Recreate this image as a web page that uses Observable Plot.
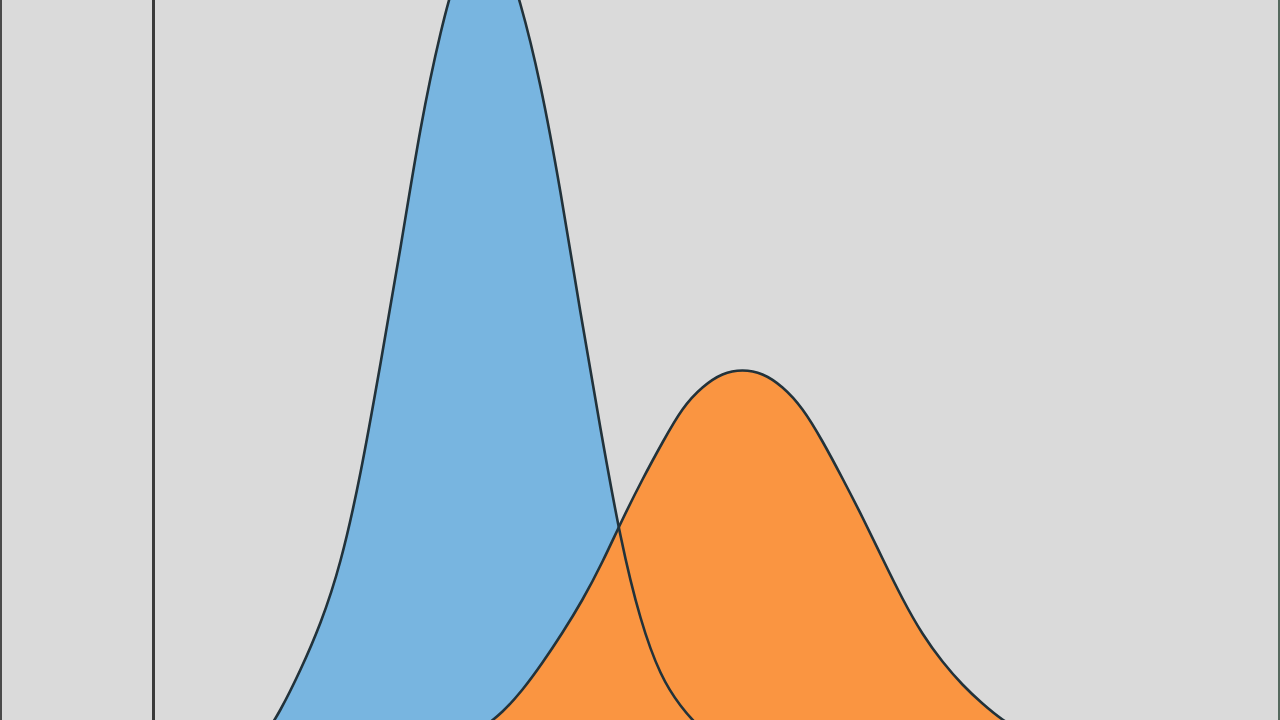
<!DOCTYPE html>
<html>
<head>
<meta charset="utf-8">
<script src="https://cdn.jsdelivr.net/npm/d3@7"></script>
<script src="https://cdn.jsdelivr.net/npm/@observablehq/plot@0.6"></script>
<style>
  html, body { margin: 0; padding: 0; background: #dadada; overflow: hidden; }
  #wrap { width: 1276px; height: 720px; border-left: 2px solid #4a4a4a; border-right: 2px solid #55695e; background: #dadada; }
  #wrap svg { display: block; }
</style>
</head>
<body>
<div id="wrap"></div>
<script>
// Blue distribution (x position, density)
const blueX = [4.7, 6.7, 8.7, 10.7, 12.7, 14.7, 16.7, 18.7, 20.7, 22.7, 24.7, 26.7, 28.7, 30.7, 32.7, 34.7, 36.7, 38.7, 40.7, 42.7, 44.7, 46.7, 48.7, 50.7, 52.7, 54.7, 56.7, 58.7, 61.7];
const blueY = [0.000, 0.002, 0.007, 0.017, 0.046, 0.086, 0.133, 0.195, 0.283, 0.392, 0.508, 0.626, 0.722, 0.790, 0.815, 0.805, 0.751, 0.669, 0.563, 0.443, 0.327, 0.220, 0.138, 0.083, 0.050, 0.028, 0.014, 0.006, 0.001];

// Orange distribution (x position, density)
const orangeX = [22.9, 27.9, 30.9, 32.9, 34.9, 36.9, 38.9, 40.9, 42.9, 44.9, 46.9, 48.9, 50.9, 52.9, 54.9, 56.9, 58.9, 60.9, 62.9, 64.9, 66.9, 68.9, 70.9, 72.9, 74.9, 76.9, 78.9, 80.9, 82.9, 84.9, 86.9, 89.9, 94.9];
const orangeY = [0.001, 0.007, 0.017, 0.028, 0.044, 0.066, 0.093, 0.123, 0.156, 0.194, 0.236, 0.276, 0.313, 0.346, 0.368, 0.381, 0.385, 0.381, 0.368, 0.346, 0.314, 0.277, 0.238, 0.197, 0.157, 0.122, 0.094, 0.071, 0.052, 0.036, 0.024, 0.011, 0.003];

const blue = blueX.map((x, i) => ({x, y: blueY[i]}));
const orange = orangeX.map((x, i) => ({x, y: orangeY[i]}));

const outline = "#22323a";
const curve = "natural";
const chart = Plot.plot({
  width: 1276,
  height: 720,
  marginLeft: 151,
  marginRight: 0,
  marginTop: 0,
  marginBottom: 0,
  style: { background: "#dadada" },
  x: { domain: [0, 112.5], axis: null },
  y: { domain: [0.035, 0.755], axis: null },
  marks: [
    Plot.areaY(blue, { x: "x", y: "y", fill: "#78b5e0", curve, clip: true }),
    Plot.areaY(orange, { x: "x", y: "y", fill: "#fa9541", curve, clip: true }),
    Plot.lineY(blue, { x: "x", y: "y", stroke: outline, strokeWidth: 2.6, curve, clip: true }),
    Plot.lineY(orange, { x: "x", y: "y", stroke: outline, strokeWidth: 2.6, curve, clip: true }),
    Plot.ruleX([0], { stroke: "#3a3a3a", strokeWidth: 3 })
  ]
});
document.getElementById("wrap").appendChild(chart);
</script>
</body>
</html>
